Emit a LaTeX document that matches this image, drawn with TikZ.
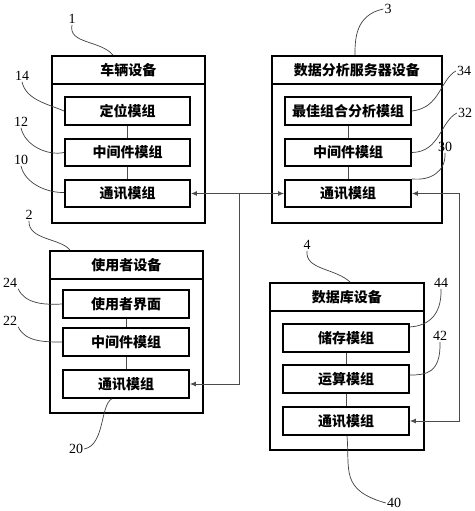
\documentclass[tikz,border=0pt]{standalone}
\usepackage{fontspec}
\setmainfont{Liberation Serif}
\newfontfamily\cjk{Noto Sans CJK SC}
\usetikzlibrary{arrows.meta}
\begin{document}
\begin{tikzpicture}[x=1pt,y=-1pt,
  outerbox/.style={draw=black,line width=1.8pt,anchor=north west,inner sep=0pt},
  titlebox/.style={draw=black,line width=1.8pt,anchor=north west,inner sep=0pt,font=\cjk\bfseries\fontsize{14pt}{16pt}\selectfont},
  modbox/.style={draw=black,line width=1.8pt,inner sep=0pt,minimum height=27.5pt,font=\cjk\bfseries\fontsize{14pt}{16pt}\selectfont},
  link/.style={draw=black!70,line width=0.8pt},
  conn/.style={draw=black!70,line width=0.9pt,{Latex[length=6pt,width=5pt]}-{Latex[length=6pt,width=5pt]}},
  conn1/.style={draw=black!70,line width=0.9pt,-{Latex[length=6pt,width=5pt]}},
  lead/.style={draw=black!75,line width=0.7pt},
  num/.style={font=\fontsize{14pt}{16pt}\selectfont,inner sep=1pt}]
\useasboundingbox (0,0) rectangle (474,511);
\fill[white] (0,0) rectangle (474,511);

% Box 1
\node[outerbox,minimum width=153pt,minimum height=167pt] (b1) at (51,55) {};
\node[titlebox,minimum width=153pt,minimum height=28pt] (t1) at (51,55) {车辆设备};
\node[modbox,minimum width=125pt] (a1) at (127.5,111) {定位模组};
\node[modbox,minimum width=125pt] (m1) at (127.5,152.5) {中间件模组};
\node[modbox,minimum width=125pt] (c1) at (127.5,193.5) {通讯模组};

% Box 3
\node[outerbox,minimum width=170pt,minimum height=167pt] (b3) at (271,55) {};
\node[titlebox,minimum width=170pt,minimum height=28pt] (t3) at (271,55) {数据分析服务器设备};
\node[modbox,minimum width=126pt] (a3) at (348,111) {最佳组合分析模组};
\node[modbox,minimum width=126pt] (m3) at (348,152.5) {中间件模组};
\node[modbox,minimum width=126pt] (c3) at (348,193.5) {通讯模组};

% Box 2
\node[outerbox,minimum width=153pt,minimum height=162pt] (b2) at (49,250) {};
\node[titlebox,minimum width=153pt,minimum height=28pt] (t2) at (49,250) {使用者设备};
\node[modbox,minimum width=126pt] (a2) at (126,304) {使用者界面};
\node[modbox,minimum width=126pt] (m2) at (126,342) {中间件模组};
\node[modbox,minimum width=126pt] (c2) at (126,384) {通讯模组};

% Box 4
\node[outerbox,minimum width=154pt,minimum height=167pt] (b4) at (269,282) {};
\node[titlebox,minimum width=154pt,minimum height=28pt] (t4) at (269,282) {数据库设备};
\node[modbox,minimum width=126pt] (a4) at (346,338) {储存模组};
\node[modbox,minimum width=126pt] (m4) at (346,379) {运算模组};
\node[modbox,minimum width=126pt] (c4) at (346,421) {通讯模组};

% internal links
\draw[link] (a1.south) -- (m1.north);
\draw[link] (m1.south) -- (c1.north);
\draw[link] (a3.south) -- (m3.north);
\draw[link] (m3.south) -- (c3.north);
\draw[link] (a2.south) -- (m2.north);
\draw[link] (m2.south) -- (c2.north);
\draw[link] (a4.south) -- (m4.north);
\draw[link] (m4.south) -- (c4.north);

% connectors
\coordinate (vl) at (239,0);
\coordinate (vr) at (459,0);
\draw[conn] (c1.east) -- (c3.west);
\draw[conn1] (c1.east -| vl) -- (c2.east -| vl) -- (c2.east);
\draw[conn] (c3.east) -- (c3.east -| vr) -- (c4.east -| vr) -- (c4.east);

% labels
\node[num] (l1) at (72,19) {1};
\node[num] (l14) at (22,76) {14};
\node[num] (l12) at (21,122) {12};
\node[num] (l10) at (21,160) {10};
\node[num] (l2) at (29,215) {2};
\node[num] (l24) at (10,283) {24};
\node[num] (l22) at (10,321) {22};
\node[num] (l20) at (76,449) {20};
\node[num] (l3) at (388,9) {3};
\node[num] (l34) at (464,71) {34};
\node[num] (l32) at (465,113) {32};
\node[num] (l30) at (445,147) {30};
\node[num] (l4) at (307,245) {4};
\node[num] (l44) at (441,283) {44};
\node[num] (l42) at (440,336) {42};
\node[num] (l40) at (394,503) {40};

% leaders
\draw[lead] (l1.south) .. controls (68,44) and (100,40) .. ([xshift=62pt]t1.north west);
\draw[lead] (l14.south) .. controls (26,100) and (48,104) .. (a1.west);
\draw[lead] (l12.south) .. controls (25,146) and (48,156) .. (m1.west);
\draw[lead] (l10.south) .. controls (25,184) and (48,193) .. ([yshift=1pt]c1.west);
\draw[lead] (l2.south) .. controls (28,240) and (60,238) .. ([xshift=21pt]t2.north west);
\draw[lead] (l24.south east) .. controls (25,304) and (45,305) .. (a2.west);
\draw[lead] (l22.south east) .. controls (25,342) and (45,342) .. (m2.west);
\draw[lead] (l20.east) .. controls (105,445) and (100,405) .. ([xshift=-14pt]c2.south);
\draw[lead] (l3.west) .. controls (355,15) and (355,40) .. ([xshift=84pt]t3.north west);
\draw[lead] (l34.west) .. controls (440,80) and (440,108) .. (a3.east);
\draw[lead] (l32.west) .. controls (440,122) and (440,152) .. (m3.east);
\draw[lead] (l30.south) .. controls (446,172) and (430,181) .. (c3.north east);
\draw[lead] (l4.south) .. controls (305,270) and (335,268) .. ([xshift=81pt]t4.north west);
\draw[lead] (l44.south) .. controls (442,318) and (425,326) .. ([yshift=11pt]a4.east);
\draw[lead] (l42.south) .. controls (441,374) and (425,375) .. ([yshift=4pt]m4.east);
\draw[lead] (l40.west) .. controls (340,490) and (350,470) .. ([xshift=1pt]c4.south);
\end{tikzpicture}
\end{document}
